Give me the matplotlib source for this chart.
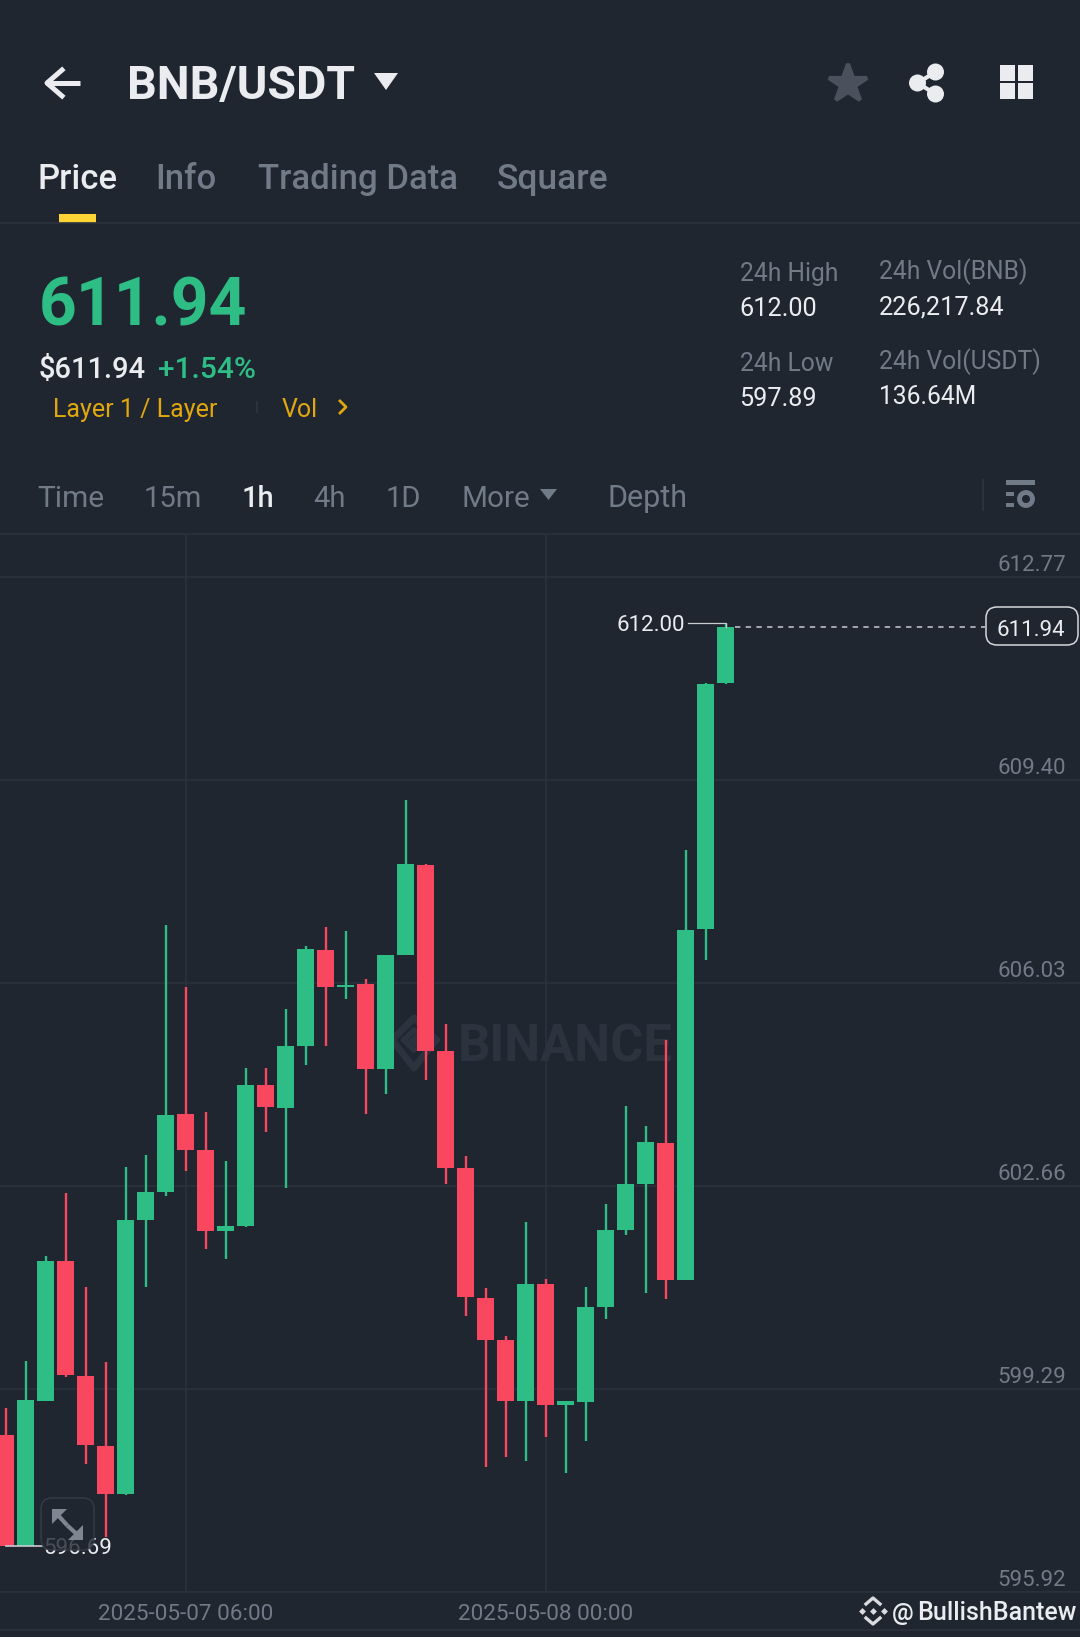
import matplotlib
matplotlib.use("Agg")
import matplotlib.pyplot as plt
from matplotlib.patches import FancyBboxPatch, Polygon, Rectangle, Circle

plt.rcParams['font.family'] = ['Roboto', 'DejaVu Sans']

# DATA
# one hourly candle each
opens = [598.53, 596.69, 599.09, 601.42, 599.50, 598.34, 597.54, 602.09, 602.56, 603.85,
         603.25, 601.91, 601.99, 604.33, 603.96, 604.99, 606.58, 605.96, 606.01, 604.60,
         606.49, 607.99, 604.90, 602.96, 600.80, 600.10, 599.09, 601.04, 599.03, 599.08,
         600.65, 601.93, 602.69, 603.38, 601.10, 606.92, 611.00]
highs = [598.98, 599.75, 601.49, 602.55, 600.99, 599.73, 602.97, 603.17, 606.99, 605.96,
         603.89, 603.07, 604.62, 604.62, 605.60, 606.64, 606.96, 606.89, 606.09, 606.50,
         609.07, 608.01, 605.34, 603.16, 600.96, 600.17, 602.06, 601.11, 599.09, 600.98,
         602.36, 603.98, 603.65, 605.09, 608.24, 611.01, 612.00]
lows = [596.69, 596.69, 599.09, 599.49, 598.04, 596.83, 597.53, 600.99, 602.50, 602.90,
        601.61, 601.44, 601.97, 603.56, 602.63, 604.66, 604.99, 605.76, 603.85, 604.19,
        606.49, 604.41, 602.69, 600.50, 597.99, 598.16, 598.09, 598.50, 597.89, 598.42,
        600.45, 601.84, 600.88, 600.79, 601.10, 606.41, 610.99]
closes = [596.69, 599.10, 601.42, 599.52, 598.36, 597.54, 602.09, 602.56, 603.84, 603.26,
          601.91, 601.99, 604.33, 603.97, 604.99, 606.59, 605.96, 606.00, 604.60, 606.49,
          608.00, 604.90, 602.96, 600.81, 600.10, 599.09, 601.04, 599.03, 599.09, 600.65,
          601.93, 602.69, 603.39, 601.10, 606.90, 610.99, 611.94]

price_ticks = [612.77, 609.40, 606.03, 602.66, 599.29, 595.92]
price_labels = ['612.77', '609.40', '606.03', '602.66', '599.29', '595.92']
time_ticks = [9, 27]
time_labels = ['2025-05-07 06:00', '2025-05-08 00:00']
high_price = 612.00
high_index = 36
low_price = 596.69
low_index = 0
last_price = 611.94

BG = '#1F2630'
GRID = '#2B323D'
GREEN = '#2EBD85'
RED = '#F9475F'
GREY = '#717A87'
WHITE = '#EAECEF'
GOLD = '#E0A70F'

W, H = 1080, 1637
fig = plt.figure(figsize=(W / 100, H / 100), dpi=100, facecolor=BG)


def pixel_axes(zorder):
    # axes that cover the whole figure, in screen pixels
    a = fig.add_axes([0, 0, 1, 1], zorder=zorder)
    a.set_xlim(0, W)
    a.set_ylim(H, 0)
    a.axis('off')
    return a


ui = pixel_axes(0)
top = pixel_axes(2)

# CANDLES
chart_top, chart_bottom = 534, 1592
ax = fig.add_axes([0, 1 - chart_bottom / H, 1, (chart_bottom - chart_top) / H], zorder=1)
ax.patch.set_visible(False)
ax.set_xlim(-0.285, 53.715)
ax.set_ylim(595.92, 613.48)

for i in range(len(opens)):
    color = GREEN if closes[i] >= opens[i] else RED
    ax.vlines(i, lows[i], highs[i], color=color, lw=1.7, zorder=3)
    ax.bar(i, abs(closes[i] - opens[i]), bottom=min(opens[i], closes[i]), width=0.86,
           color=color, zorder=3)

ax.set_yticks(price_ticks)
ax.set_yticklabels([])
ax.set_xticks(time_ticks)
ax.set_xticklabels(time_labels, fontsize=16.2, color=GREY)
ax.tick_params(length=0, axis='both')
ax.tick_params(axis='x', pad=8.5)
ax.grid(True, color=GRID, lw=1.2)
ax.set_axisbelow(True)
for side in ['left', 'right']:
    ax.spines[side].set_visible(False)
for side in ['top', 'bottom']:
    ax.spines[side].set_color(GRID)
    ax.spines[side].set_linewidth(1.2)

# price labels sit just above their grid lines, on the right
for p, s in zip(price_ticks, price_labels):
    ax.annotate(s, xy=(1, p), xycoords=('axes fraction', 'data'), xytext=(-10, 8.4),
                textcoords='offset points', ha='right', va='center', fontsize=16, color=GREY)

# high / low / last markers
ax.plot([high_index - 1.9, high_index, high_index], [high_price, high_price, last_price],
        color='#C9CCD1', lw=0.9, zorder=4)
ax.annotate(f'{high_price:.2f}', xy=(high_index - 1.9, high_price), xytext=(-2, -1.5),
            textcoords='offset points', ha='right', va='center', fontsize=16, color=WHITE)
ax.plot([low_index, low_index + 1.87], [low_price, low_price], color='#C9CCD1', lw=1.2, zorder=4)
ax.annotate(f'{low_price:.2f}', xy=(low_index + 1.87, low_price), xytext=(0, -2),
            textcoords='offset points', ha='left', va='center', fontsize=16, color=WHITE)
ax.plot([high_index + 0.45, 48.95], [last_price, last_price], color='#C9CCD1', lw=1.1,
        dashes=(3.5, 3.5), zorder=2)
ax.annotate(f'{last_price:.2f}', xy=(1, last_price), xycoords=('axes fraction', 'data'),
            xytext=(-11, -3), textcoords='offset points', ha='right', va='center',
            fontsize=16, color=WHITE, zorder=6)
ui.add_patch(FancyBboxPatch((992, 613), 80, 26, boxstyle='round,pad=6,rounding_size=11',
                            fc=BG, ec='#D5D8DC', lw=1.1))


def label(x, y, s, size, color=WHITE, weight='normal', ha='left', target=None):
    # y is the text baseline in pixels
    (target or ui).text(x, y, s, fontsize=size, color=color, fontweight=weight, ha=ha, va='baseline')


# HEADER
ui.plot([46, 80], [83, 83], color=WHITE, lw=3.6, solid_capstyle='butt')
ui.plot([62, 47, 62], [70, 83, 96], color=WHITE, lw=3.6)
label(127, 99, 'BNB/USDT', 33.5, weight='bold')
ui.add_patch(Polygon([[374, 73], [398, 73], [386, 90]], fc=WHITE, ec='none'))
ui.plot([848], [84], marker='*', ms=29, color='#4A515C', mec='#4A515C', mew=3)

# share icon
share = [(935.5, 72), (917.5, 83), (935.5, 94)]
ui.plot([share[0][0], share[1][0], share[2][0]], [share[0][1], share[1][1], share[2][1]],
        color=WHITE, lw=3)
for cx, cy in share:
    ui.add_patch(Circle((cx, cy), 8.5, fc=WHITE, ec='none'))

# layout icon
for x0, y0 in [(1000, 65), (1018, 65), (1000, 83), (1018, 83)]:
    ui.add_patch(Rectangle((x0, y0), 15, 15.5, fc=WHITE, ec='none'))

# tabs
label(38, 189, 'Price', 25, weight='medium')
label(155, 189, 'Info', 25, color=GREY, weight='medium')
label(258, 189, 'Trading Data', 25, color=GREY, weight='medium')
label(497, 189, 'Square', 25.5, color=GREY, weight='medium')
ui.add_patch(Rectangle((59, 214), 37, 9, fc='#FCD535', ec='none'))
ui.plot([0, W], [223, 223], color=GRID, lw=1.2)

# price block
label(39, 325, '611.94', 47.5, color=GREEN, weight='bold')
label(39, 378, '$611.94', 21, weight='medium')
label(158, 378, '+1.54%', 21.5, color=GREEN, weight='medium')
label(53, 417, 'Layer 1 / Layer', 18, color=GOLD)
ui.plot([257, 257], [402, 412], color=GRID, lw=1.5)
label(282, 417, 'Vol', 18, color=GOLD)
ui.plot([340, 346, 340], [401, 407, 413], color=GOLD, lw=2)

# 24h stats
label(740, 281, '24h High', 17.7, color=GREY)
label(739, 316, '612.00', 18.2)
label(740, 371, '24h Low', 17.7, color=GREY)
label(739, 406, '597.89', 18.2)
label(879, 279, '24h Vol(BNB)', 17.7, color=GREY)
label(879, 314, '226,217.84', 18.2)
label(879, 369, '24h Vol(USDT)', 17.7, color=GREY)
label(879, 404, '136.64M', 17.7)

# time frame row
label(37, 507, 'Time', 21.5, color=GREY)
label(144, 507, '15m', 21, color=GREY)
label(242, 507, '1h', 21, weight='medium')
label(313, 507, '4h', 21, color=GREY)
label(386, 507, '1D', 21, color=GREY)
label(461, 507, 'More', 21.3, color=GREY)
ui.add_patch(Polygon([[540, 489], [557, 489], [548.5, 500]], fc=GREY, ec='none'))
label(607, 507, 'Depth', 22, color=GREY)
ui.plot([983, 983], [480, 510], color=GRID, lw=1.5)
ui.add_patch(Rectangle((1006, 480), 29, 5, fc=GREY, ec='none'))
ui.add_patch(Rectangle((1006, 492), 8, 4, fc=GREY, ec='none'))
ui.add_patch(Rectangle((1006, 503), 8, 4, fc=GREY, ec='none'))
ui.add_patch(Circle((1026, 499), 6.5, fc=BG, ec=GREY, lw=3.5))

# BINANCE watermark behind the candles
wm = '#2C323E'
ui.plot([414], [1040], marker='D', ms=6, color=wm, mec='none')
ui.plot([392, 414, 436], [1040, 1018, 1040], color=wm, lw=5)
ui.plot([392, 414, 436], [1040, 1068, 1040], color=wm, lw=5)
ui.plot([404, 414, 424], [1040, 1030, 1040], color=wm, lw=4)
ui.plot([404, 414, 424], [1040, 1050, 1040], color=wm, lw=4)
label(458, 1061, 'BINANCE', 36.5, color=wm, weight='bold')

# footer
ui.plot([0, W], [1630, 1630], color=GRID, lw=1.2)
logo = '#D9DBDF'
for lx, ly in [(862, 1611), (884, 1611), (873, 1611)]:
    ui.plot([lx], [ly], marker='D', ms=3.5, color=logo, mec='none')
ui.plot([866, 873, 880], [1604, 1598, 1604], color=logo, lw=2.4)
ui.plot([866, 873, 880], [1618, 1624, 1618], color=logo, lw=2.4)
label(892, 1620, '@', 17.5, weight='medium')
label(917, 1620, 'BullishBantew', 18, weight='medium')

# expand button covers part of the low label
top.add_patch(FancyBboxPatch((47, 1504), 41, 40, boxstyle='round,pad=6,rounding_size=11',
                             fc=BG, ec='#3A414C', lw=1, alpha=0.8))
top.plot([56, 66], [1513, 1524], color='#7E8691', lw=3)
top.add_patch(Polygon([[52, 1509], [67, 1509], [52, 1524]], fc='#7E8691', ec='none'))
top.plot([69, 80], [1527, 1537], color='#7E8691', lw=3)
top.add_patch(Polygon([[83, 1540], [68, 1540], [83, 1525]], fc='#7E8691', ec='none'))

fig.savefig('out.png', dpi=100, facecolor=BG)
